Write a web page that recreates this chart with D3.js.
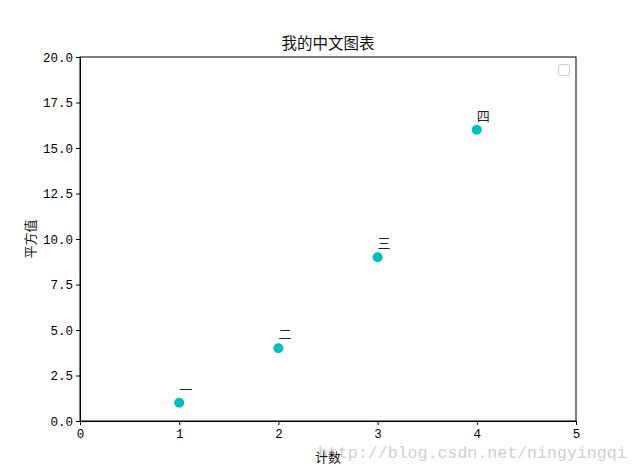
<!DOCTYPE html>
<html>
<head>
<meta charset="utf-8">
<script src="https://cdn.jsdelivr.net/npm/d3@7"></script>
<style>
  body { margin: 0; background: #fff; }
  svg { display: block; }
</style>
</head>
<body>
<svg id="chart" width="640" height="473"></svg>
<script>
var xValues = [1, 2, 3, 4];
var yValues = [1, 4, 9, 16];
var pointLabels = ["一", "二", "三", "四"];
var xTicks = [0, 1, 2, 3, 4, 5];
var yTicks = [0, 2.5, 5, 7.5, 10, 12.5, 15, 17.5, 20];

var NUM_FONT = "'Liberation Mono', monospace";
var CJK_FONT = "'Noto Sans CJK SC', sans-serif";

var margin = {left: 80, right: 64, top: 57, bottom: 52};
var width = 640, height = 473;

var svg = d3.select("#chart");

var x = d3.scaleLinear().domain([0, 5]).range([margin.left, width - margin.right]);
var y = d3.scaleLinear().domain([0, 20]).range([height - margin.bottom, margin.top]);

// axes
var xAxis = svg.append("g")
    .attr("transform", "translate(0," + y(0) + ")")
    .call(d3.axisBottom(x).tickValues(xTicks).tickFormat(d3.format("d")).tickSize(4).tickSizeOuter(0));

var yAxis = svg.append("g")
    .attr("transform", "translate(" + x(0) + ",0)")
    .call(d3.axisLeft(y).tickValues(yTicks).tickFormat(d3.format(".1f")).tickSize(4).tickSizeOuter(0));

[xAxis, yAxis].forEach(function (g) {
    g.selectAll("path, line").attr("stroke", "#000").attr("stroke-width", 1);
    g.selectAll("text")
        .attr("fill", "#000")
        .style("font-family", NUM_FONT)
        .style("font-size", "12.5px");
});
xAxis.selectAll("text").attr("dy", "0.75em").attr("y", 8);
yAxis.selectAll("text").attr("x", -7);

// frame
svg.append("rect")
    .attr("x", x(0))
    .attr("y", y(20))
    .attr("width", x(5) - x(0))
    .attr("height", y(0) - y(20))
    .attr("fill", "none")
    .attr("stroke", "#000")
    .attr("stroke-width", 1);

// points
svg.append("g")
    .selectAll("circle")
    .data(xValues)
    .join("circle")
    .attr("cx", function (d) { return x(d); })
    .attr("cy", function (d, i) { return y(yValues[i]); })
    .attr("r", 5)
    .attr("fill", "#00bfbf");

// point labels
svg.append("g")
    .selectAll("text")
    .data(xValues)
    .join("text")
    .attr("x", function (d) { return x(d); })
    .attr("y", function (d, i) { return y(yValues[i] + 0.5); })
    .style("font-family", CJK_FONT)
    .style("font-size", "13px")
    .attr("fill", "#222")
    .text(function (d, i) { return pointLabels[i]; });

// empty legend
svg.append("rect")
    .attr("x", 558.5)
    .attr("y", 64.5)
    .attr("width", 11)
    .attr("height", 11)
    .attr("rx", 2)
    .attr("fill", "#fff")
    .attr("stroke", "#ccc");

// title & labels
svg.append("text")
    .attr("x", (x(0) + x(5)) / 2)
    .attr("y", 49)
    .attr("text-anchor", "middle")
    .style("font-family", CJK_FONT)
    .style("font-size", "15.5px")
    .attr("fill", "#111")
    .text("我的中文图表");

svg.append("text")
    .attr("transform", "translate(35," + ((y(0) + y(20)) / 2) + ") rotate(-90)")
    .attr("text-anchor", "middle")
    .style("font-family", CJK_FONT)
    .style("font-size", "13px")
    .attr("fill", "#111")
    .text("平方值");

// watermark
svg.append("text")
    .attr("x", 318)
    .attr("y", 458)
    .style("font-family", NUM_FONT)
    .style("font-size", "16.6px")
    .attr("fill", "#cfcfcf")
    .text("http://blog.csdn.net/ningyingqi");

svg.append("text")
    .attr("x", (x(0) + x(5)) / 2)
    .attr("y", 462)
    .attr("text-anchor", "middle")
    .style("font-family", CJK_FONT)
    .style("font-size", "13px")
    .attr("fill", "#111")
    .text("计数");
</script>
</body>
</html>
